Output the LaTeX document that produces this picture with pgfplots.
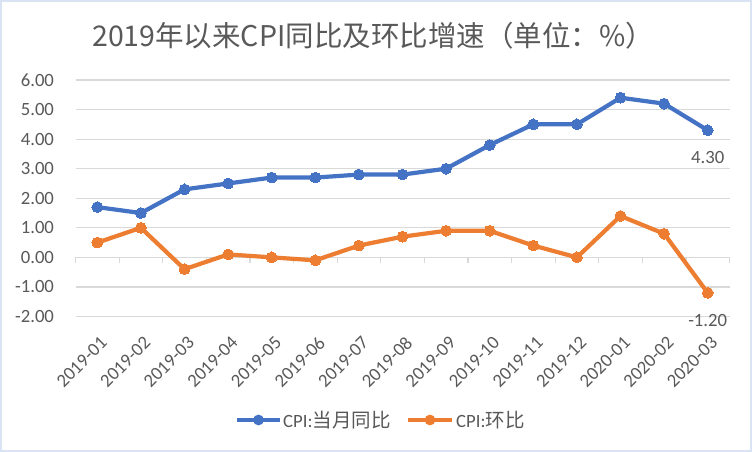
\documentclass[border=0pt]{standalone}
\usepackage{pgfplots}
\pgfplotsset{compat=1.18}
\usepackage{fontspec}
\setmainfont{Carlito}
\newfontfamily\cjk{Noto Sans CJK SC}

\definecolor{cpiyoy}{RGB}{68,114,196}
\definecolor{cpimom}{RGB}{237,125,49}
\definecolor{gridgray}{RGB}{217,217,217}
\definecolor{txtgray}{RGB}{89,89,89}
\definecolor{frame}{RGB}{218,227,243}

\pgfplotstableread{
idx yoy mom
0  1.7  0.5
1  1.5  1.0
2  2.3 -0.4
3  2.5  0.1
4  2.7  0.0
5  2.7 -0.1
6  2.8  0.4
7  2.8  0.7
8  3.0  0.9
9  3.8  0.9
10 4.5  0.4
11 4.5  0.0
12 5.4  1.4
13 5.2  0.8
14 4.3 -1.2
}\cpidata

\begin{document}
\begin{tikzpicture}[x=1pt,y=1pt]
% canvas and frame
\fill[white] (0,0) rectangle (752,452);
\draw[frame, line width=2pt] (1,1) rectangle (751,451);

% title
\node[txtgray, font={\cjk\fontsize{28.5}{32}\selectfont}] at (373,416) {2019年以来CPI同比及环比增速（单位：\%）};

\begin{axis}[
  at={(75.5pt,135.5pt)}, anchor=south west,
  scale only axis, width=654pt, height=236.5pt,
  xmin=-0.5, xmax=14.5,
  ymin=-2, ymax=6,
  ytick={-2,-1,0,1,2,3,4,5,6},
  xtick={0,...,14},
  xticklabels={2019-01,2019-02,2019-03,2019-04,2019-05,2019-06,2019-07,2019-08,2019-09,2019-10,2019-11,2019-12,2020-01,2020-02,2020-03},
  axis line style={draw=none},
  major tick length=0pt,
  ymajorgrids, grid style={gridgray, line width=1.2pt},
  /pgf/number format/assume math mode=true,
  yticklabel={\pgfmathprintnumber[fixed,fixed zerofill,precision=2]{\tick}},
  tick label style={txtgray, font=\fontsize{18.7}{22}\selectfont},
  yticklabel style={xshift=-18pt},
  xticklabel style={xshift=9pt, yshift=-21pt, rotate=45, anchor=east},
  clip=false,
]
% horizontal axis at zero with category boundary ticks
\draw[gridgray, line width=1.2pt] (axis cs:-0.5,0) -- (axis cs:14.5,0);
\pgfplotsinvokeforeach{-0.5,0.5,1.5,2.5,3.5,4.5,5.5,6.5,7.5,8.5,9.5,10.5,11.5,12.5,13.5,14.5}{
  \draw[gridgray, line width=1.2pt] (axis cs:#1,0) -- ++(0pt,-6pt);
}
\addplot[cpiyoy, line width=4.2pt, line join=round, mark=*, mark size=5.4pt,
  mark options={line width=0pt, fill=cpiyoy}] table[x=idx, y=yoy] {\cpidata};
\addplot[cpimom, line width=4.2pt, line join=round, mark=*, mark size=5.4pt,
  mark options={line width=0pt, fill=cpimom}] table[x=idx, y=mom] {\cpidata};
\node[txtgray, font=\fontsize{18.7}{22}\selectfont, yshift=-27pt] at (axis cs:14,4.3) {4.30};
\node[txtgray, font=\fontsize{18.7}{22}\selectfont, yshift=-28pt] at (axis cs:14,-1.2) {-1.20};
\end{axis}

% legend
\draw[cpiyoy, line width=4.2pt] (237,32) -- (280,32);
\fill[cpiyoy] (258.5,32) circle (5.4pt);
\node[txtgray, anchor=west, inner sep=0pt, font=\fontsize{18.7}{22}\selectfont] at (283,32) {CPI:{\cjk\fontsize{19.5}{22}\selectfont 当月同比}};
\draw[cpimom, line width=4.2pt] (408,32) -- (452,32);
\fill[cpimom] (430,32) circle (5.4pt);
\node[txtgray, anchor=west, inner sep=0pt, font=\fontsize{18.7}{22}\selectfont] at (456,32) {CPI:{\cjk\fontsize{19.5}{22}\selectfont 环比}};
\end{tikzpicture}
\end{document}
